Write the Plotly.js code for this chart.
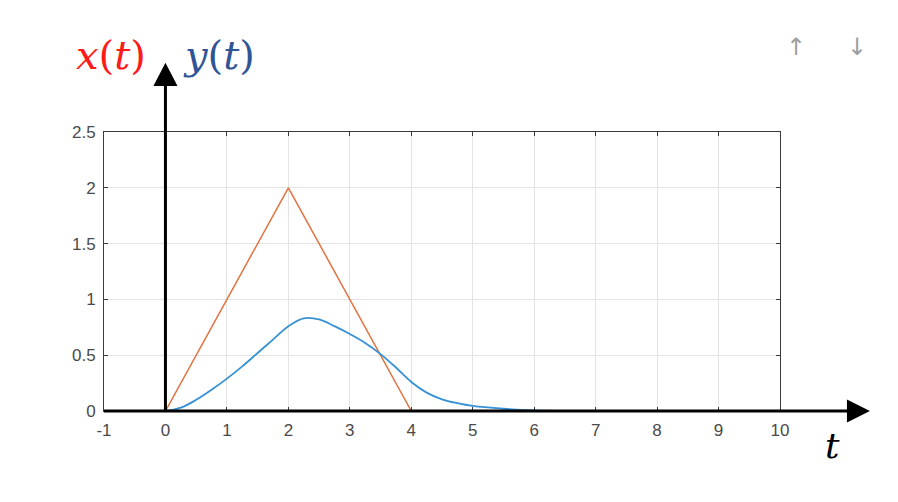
<!DOCTYPE html>
<html>
<head>
<meta charset="utf-8">
<script src="https://cdn.plot.ly/plotly-3.0.1.min.js"></script>
<style>html,body{margin:0;padding:0;background:#fff;}#chart{width:898px;height:502px;}</style>
</head>
<body>
<div id="chart"></div>
<script>
// x(t): triangle input
var tX = [-1, 0, 2, 4, 10];
var xVals = [0, 0, 2, 0, 0];
// y(t): response curve
var tY = [-1, 0, 0.25, 0.5, 0.75, 1, 1.25, 1.5, 1.75, 2, 2.25, 2.5, 2.75, 3, 3.25, 3.5, 3.75, 4, 4.25, 4.5, 4.75, 5, 5.5, 6, 6.5, 7, 10];
var yVals = [0, 0, 0.03, 0.10, 0.19, 0.29, 0.40, 0.52, 0.64, 0.76, 0.83, 0.82, 0.76, 0.69, 0.61, 0.51, 0.39, 0.26, 0.165, 0.105, 0.07, 0.045, 0.02, 0.006, 0.001, 0, 0];
var xTicks = [-1, 0, 1, 2, 3, 4, 5, 6, 7, 8, 9, 10];
var yTicks = [0, 0.5, 1, 1.5, 2, 2.5];
var yTickText = ['0', '0.5', '1', '1.5', '2', '2.5'];

var traces = [
  {x: tX, y: xVals, mode: 'lines', line: {color: '#e2723f', width: 1.5}, hoverinfo: 'skip'},
  {x: tY, y: yVals, mode: 'lines', line: {color: '#3592d6', width: 1.8, shape: 'spline', smoothing: 1}, hoverinfo: 'skip'}
];

var axisCommon = {
  showline: true, linecolor: '#3a3a3a', linewidth: 1,
  mirror: 'ticks', ticks: 'inside', ticklen: 4, tickcolor: '#3a3a3a', tickwidth: 1,
  showgrid: true, gridcolor: '#e3e3e3', gridwidth: 1, zeroline: false,
  tickfont: {family: 'Liberation Sans, Arial, sans-serif', size: 17, color: '#4a4a4a'},
  fixedrange: true
};

var layout = {
  width: 898, height: 502,
  margin: {l: 104, r: 118, t: 132, b: 91},
  paper_bgcolor: '#ffffff', plot_bgcolor: '#ffffff',
  showlegend: false,
  xaxis: Object.assign({}, axisCommon, {range: [-1, 10], tickvals: xTicks, ticktext: xTicks.map(String), ticklabelstandoff: 4}),
  yaxis: Object.assign({}, axisCommon, {range: [0, 2.5], tickvals: yTicks, ticktext: yTickText, ticklabelstandoff: 4}),
  shapes: [
    {type: 'line', xref: 'paper', yref: 'paper', x0: 0, x1: 1.1, y0: 0, y1: 0, line: {color: '#000', width: 3}},
    {type: 'path', xref: 'paper', yref: 'paper', path: 'M 1.099 0.041 L 1.099 -0.041 L 1.133 0 Z', fillcolor: '#000', line: {color: '#000', width: 0}},
    {type: 'line', xref: 'x', yref: 'paper', x0: 0, x1: 0, y0: 0, y1: 1.17, line: {color: '#000', width: 3}},
    {type: 'path', xref: 'paper', yref: 'paper', path: 'M 0.0731 1.165 L 0.1087 1.165 L 0.0909 1.248 Z', fillcolor: '#000', line: {color: '#000', width: 0}}
  ],
  annotations: [
    {text: '<i>x</i>(<i>t</i>)', xref: 'paper', yref: 'paper', x: 0.0104, y: 1.276, xanchor: 'center', yanchor: 'middle', showarrow: false, font: {family: 'DejaVu Serif, serif', size: 40, color: '#ff1a1a'}},
    {text: '<i>y</i>(<i>t</i>)', xref: 'paper', yref: 'paper', x: 0.170, y: 1.276, xanchor: 'center', yanchor: 'middle', showarrow: false, font: {family: 'DejaVu Serif, serif', size: 40, color: '#2f5597'}},
    {text: '<i>t</i>', xref: 'paper', yref: 'paper', x: 1.077, y: -0.125, xanchor: 'center', yanchor: 'middle', showarrow: false, font: {family: 'DejaVu Serif, serif', size: 36, color: '#000'}},
    {text: '↑', xref: 'paper', yref: 'paper', x: 1.0237, y: 1.305, xanchor: 'center', yanchor: 'middle', showarrow: false, font: {family: 'DejaVu Sans, sans-serif', size: 24, color: '#a0a0a0'}},
    {text: '↓', xref: 'paper', yref: 'paper', x: 1.114, y: 1.305, xanchor: 'center', yanchor: 'middle', showarrow: false, font: {family: 'DejaVu Sans, sans-serif', size: 24, color: '#a0a0a0'}}
  ]
};

Plotly.newPlot('chart', traces, layout, {displayModeBar: false, staticPlot: true});
</script>
</body>
</html>
